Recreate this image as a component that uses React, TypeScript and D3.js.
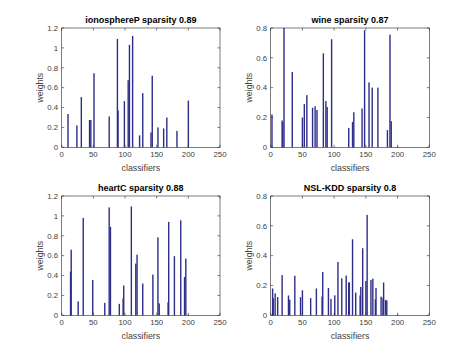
import React from "react";
import * as d3 from "d3";

const titles = ["ionosphereP sparsity 0.89", "wine sparsity 0.87", "heartC sparsity 0.88", "NSL-KDD sparsity 0.8"];
const yMaxes = [1.2, 0.8, 1.2, 0.8];
const xTicks = [0, 50, 100, 150, 200, 250];
const yTicks12 = [0, 0.2, 0.4, 0.6, 0.8, 1, 1.2];
const yTicks08 = [0, 0.2, 0.4, 0.6, 0.8];

const ionoIdx = [10, 24, 31, 44, 46, 51, 75, 88, 89, 99, 105, 107, 112, 123, 128, 141, 143, 152, 161, 166, 182, 200];
const ionoVal = [0.335, 0.22, 0.505, 0.275, 0.275, 0.745, 0.31, 1.09, 0.37, 0.465, 0.675, 1.03, 1.12, 0.12, 0.545, 0.15, 0.72, 0.2, 0.19, 0.3, 0.165, 0.47];

const wineIdx = [2, 18, 19, 21, 34, 50, 53, 57, 66, 70, 73, 83, 87, 89, 96, 123, 129, 131, 144, 148, 155, 160, 169, 184, 188, 190, 200];
const wineVal = [0.22, 0.18, 0.17, 0.8, 0.505, 0.2, 0.29, 0.35, 0.265, 0.275, 0.25, 0.63, 0.31, 0.27, 0.725, 0.13, 0.17, 0.235, 0.26, 0.785, 0.435, 0.4, 0.4, 0.115, 0.755, 0.175, 0.004];

const heartIdx = [14, 15, 26, 34, 49, 68, 75, 77, 91, 97, 98, 110, 117, 119, 128, 144, 152, 154, 168, 169, 178, 188, 194, 196, 200];
const heartVal = [0.44, 0.66, 0.14, 0.98, 0.355, 0.125, 1.085, 0.89, 0.115, 0.17, 0.3, 1.095, 0.52, 0.61, 0.32, 0.41, 0.785, 0.12, 0.13, 0.94, 0.595, 0.955, 0.385, 0.57, 0.006];

const nslIdx = [3, 4, 7, 11, 18, 28, 30, 38, 47, 50, 63, 72, 81, 82, 91, 95, 101, 106, 112, 119, 123, 124, 129, 134, 141, 142, 145, 150, 152, 158, 161, 165, 166, 174, 177, 178, 181, 183, 200];
const nslVal = [0.18, 0.115, 0.147, 0.122, 0.27, 0.133, 0.105, 0.265, 0.122, 0.168, 0.115, 0.18, 0.125, 0.29, 0.183, 0.11, 0.134, 0.358, 0.248, 0.266, 0.22, 0.22, 0.51, 0.152, 0.134, 0.19, 0.45, 0.23, 0.673, 0.237, 0.246, 0.107, 0.183, 0.125, 0.118, 0.22, 0.103, 0.1, 0.004];

const series = [
  [ionoIdx, ionoVal],
  [wineIdx, wineVal],
  [heartIdx, heartVal],
  [nslIdx, nslVal],
];

const panels = [
  { left: 61.7, right: 220, top: 28, bottom: 147.3 },
  { left: 270.7, right: 429.3, top: 28, bottom: 147.3 },
  { left: 61.7, right: 220, top: 196, bottom: 315.3 },
  { left: 270.7, right: 429.3, top: 196, bottom: 315.3 },
];

const axisColor = "#262626";
const barColor = "#2e2e8a";
const font = "'Liberation Sans', Arial, Helvetica, sans-serif";

function Panel({ k }: { k: number }) {
  const p = panels[k];
  const x = d3.scaleLinear().domain([0, 250]).range([p.left, p.right]);
  const y = d3.scaleLinear().domain([0, yMaxes[k]]).range([p.bottom, p.top]);
  const yTicks = yMaxes[k] > 1 ? yTicks12 : yTicks08;
  const [idx, val] = series[k];
  const tl = 2.5;
  const fmt = (v: number) => (v === 0 ? "0" : d3.format("~g")(+v.toFixed(1)));
  return (
    <g>
      {idx.map((i, j) => {
        const y0 = y(0);
        const y1 = y(val[j]);
        return (
          <rect
            key={j}
            x={x(i) - 0.7}
            y={y1}
            width={1.4}
            height={Math.max(0.6, y0 - y1)}
            fill={barColor}
          />
        );
      })}
      <rect x={p.left} y={p.top} width={p.right - p.left} height={p.bottom - p.top} fill="none" stroke={axisColor} strokeWidth={0.6} />
      {xTicks.map((t) => (
        <g key={"x" + t}>
          <line x1={x(t)} x2={x(t)} y1={p.bottom} y2={p.bottom - tl} stroke={axisColor} strokeWidth={0.6} />
          <line x1={x(t)} x2={x(t)} y1={p.top} y2={p.top + tl} stroke={axisColor} strokeWidth={0.6} />
          <text x={x(t)} y={p.bottom + 10} textAnchor="middle" fontSize={7.8} fill="#404040" fontFamily={font}>
            {t}
          </text>
        </g>
      ))}
      {yTicks.map((t) => (
        <g key={"y" + t}>
          <line x1={p.left} x2={p.left + tl} y1={y(t)} y2={y(t)} stroke={axisColor} strokeWidth={0.6} />
          <line x1={p.right} x2={p.right - tl} y1={y(t)} y2={y(t)} stroke={axisColor} strokeWidth={0.6} />
          <text x={p.left - 3.5} y={y(t) + 2.8} textAnchor="end" fontSize={7.8} fill="#404040" fontFamily={font}>
            {fmt(t)}
          </text>
        </g>
      ))}
      <text x={(p.left + p.right) / 2} y={p.top - 5} textAnchor="middle" fontSize={9} fontWeight="bold" fill="#000" fontFamily={font}>
        {titles[k]}
      </text>
      <text x={(p.left + p.right) / 2} y={p.bottom + 24} textAnchor="middle" fontSize={8.8} fill="#404040" fontFamily={font}>
        classifiers
      </text>
      <text
        transform={`translate(${p.left - 19},${(p.top + p.bottom) / 2}) rotate(-90)`}
        textAnchor="middle"
        fontSize={8.8}
        fill="#404040"
        fontFamily={font}
      >
        weights
      </text>
    </g>
  );
}

export default function App() {
  return (
    <svg width={474} height={355} style={{ position: "absolute", left: 0, top: 0, background: "#fff" }}>
      <rect x={0} y={0} width={474} height={355} fill="#fff" />
      {[0, 1, 2, 3].map((k) => (
        <Panel key={k} k={k} />
      ))}
    </svg>
  );
}
